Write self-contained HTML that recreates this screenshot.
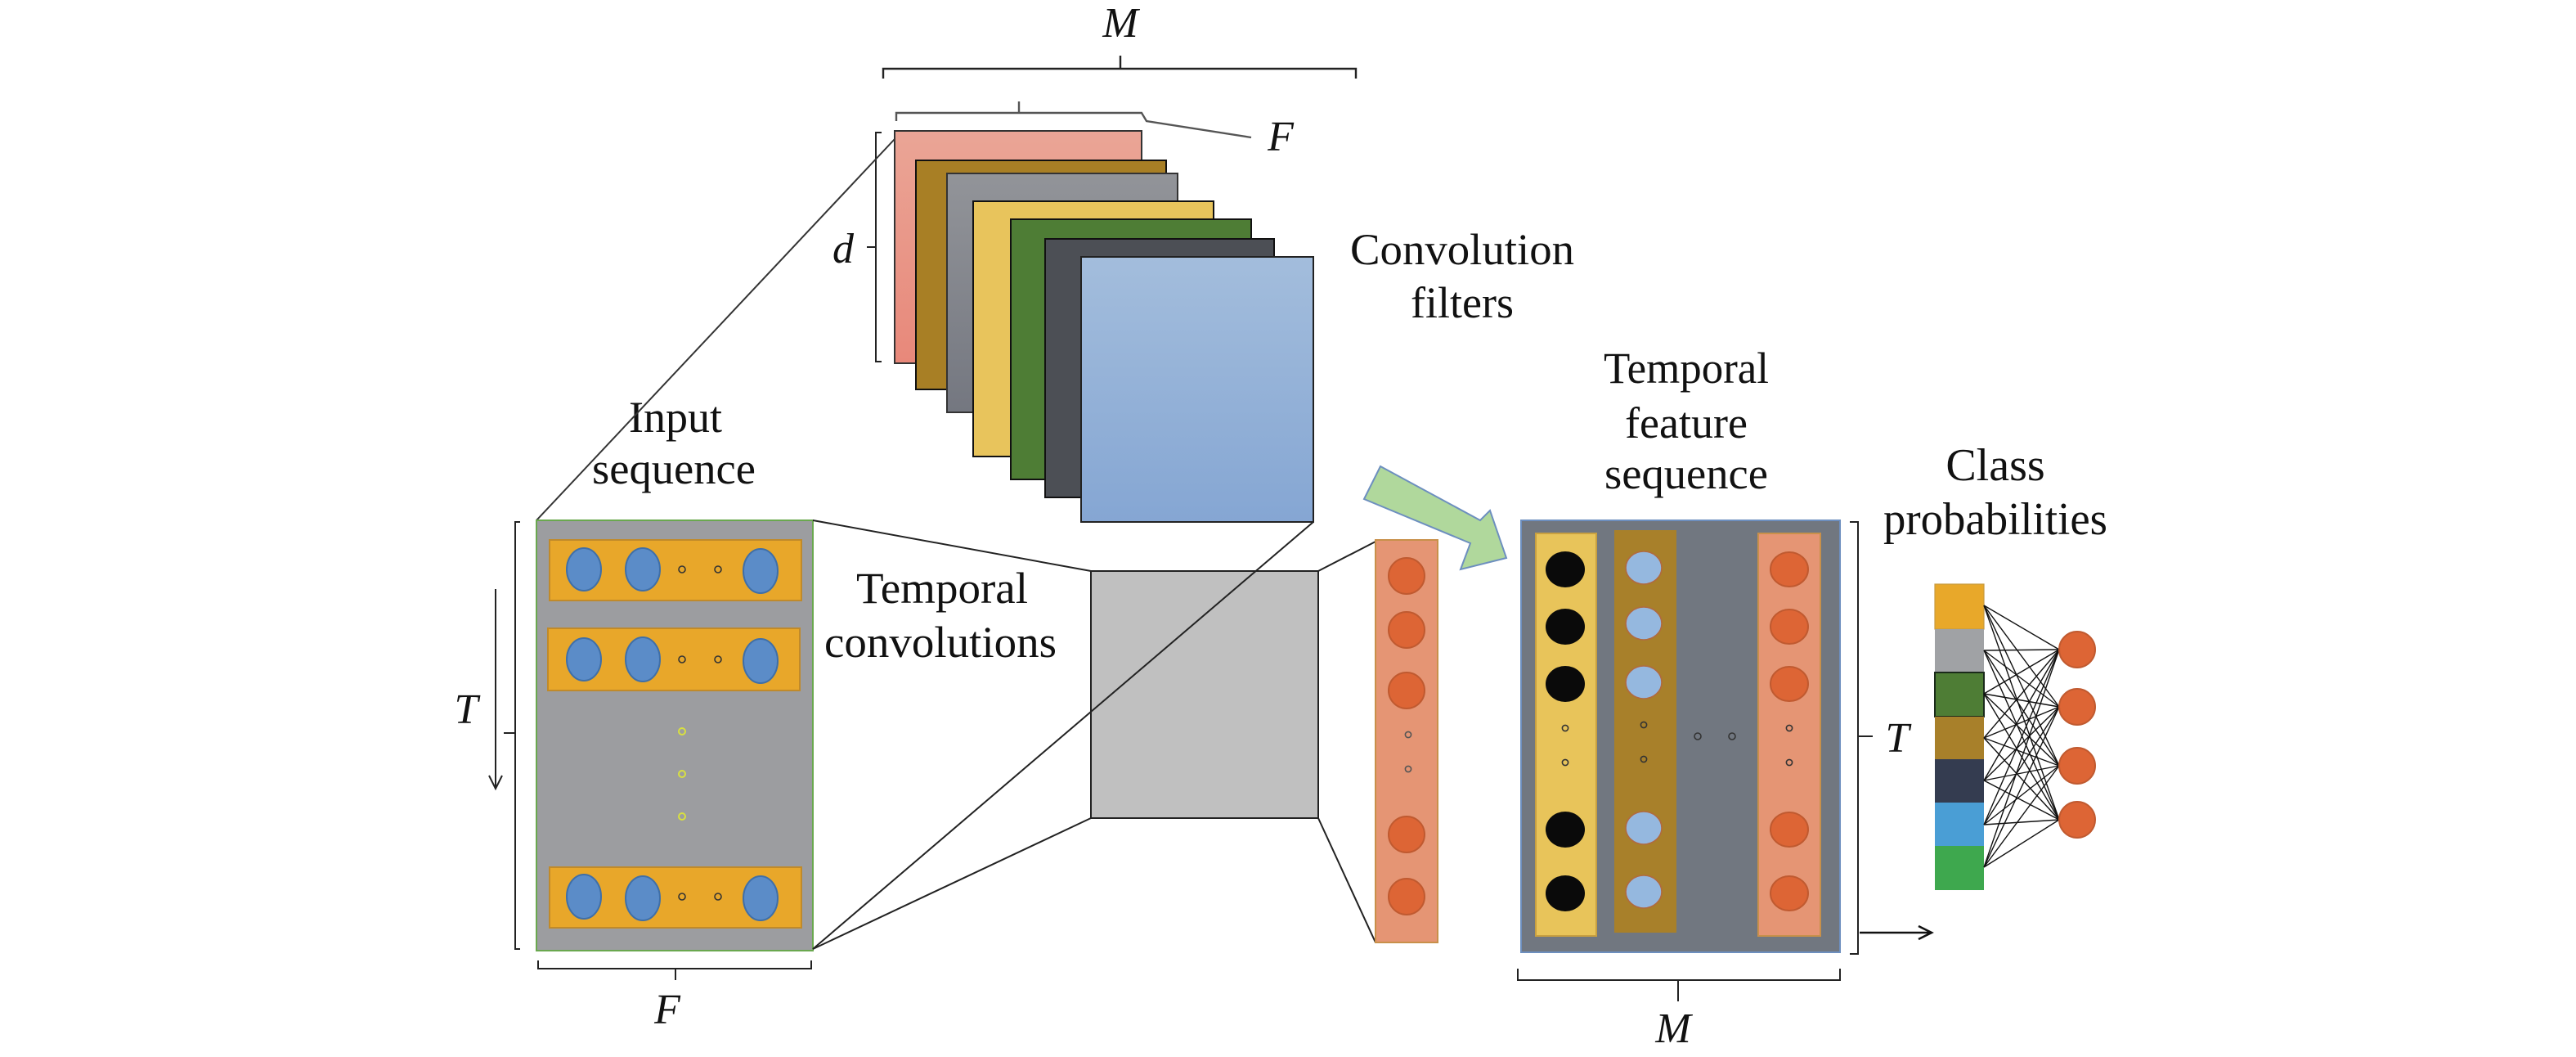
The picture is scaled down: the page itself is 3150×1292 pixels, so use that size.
<!DOCTYPE html>
<html><head><meta charset="utf-8"><style>
html,body{margin:0;padding:0;background:#fff;}
svg{display:block;}
text{font-family:"Liberation Serif",serif;fill:#111;}
.i{font-style:italic;}
</style></head><body>
<svg width="3150" height="1292" viewBox="0 0 1575 646" xmlns="http://www.w3.org/2000/svg">
<defs>
<linearGradient id="gp" x1="0" y1="0" x2="0" y2="1"><stop offset="0" stop-color="#eaa596"/><stop offset="1" stop-color="#e8887a"/></linearGradient>
<linearGradient id="gg" x1="0" y1="0" x2="0" y2="1"><stop offset="0" stop-color="#929499"/><stop offset="1" stop-color="#747780"/></linearGradient>
<linearGradient id="gb" x1="0" y1="0" x2="0" y2="1"><stop offset="0" stop-color="#a3bddc"/><stop offset="1" stop-color="#85a6d3"/></linearGradient>
</defs>
<rect width="1575" height="646" fill="#fff"/>

<!-- top M bracket -->
<path d="M540,48 V42 H829 V48 M685,42 V34" fill="none" stroke="#222" stroke-width="1.2"/>
<text class="i" x="685" y="22.5" font-size="26" text-anchor="middle">M</text>
<!-- F bracket -->
<path d="M548,74 V69 H698 L701,74 L765,84 M623,69 V62" fill="none" stroke="#555" stroke-width="1.2"/>
<text class="i" x="783" y="92" font-size="26" text-anchor="middle">F</text>
<!-- d bracket -->
<path d="M539,81 H535.5 V221 H539 M535.5,151 H530" fill="none" stroke="#222" stroke-width="1"/>
<text class="i" x="515.5" y="160.5" font-size="26" text-anchor="middle">d</text>

<!-- filters -->
<rect x="547" y="80" width="151" height="142" fill="url(#gp)" stroke="#333" stroke-width="1"/>
<rect x="560" y="98" width="153" height="140" fill="#a87f25" stroke="#111" stroke-width="1"/>
<rect x="579" y="106" width="141" height="146" fill="url(#gg)" stroke="#333" stroke-width="1"/>
<rect x="595" y="123" width="147" height="156" fill="#e8c45c" stroke="#111" stroke-width="1"/>
<rect x="618" y="134" width="147" height="159" fill="#4e7d35" stroke="#111" stroke-width="1"/>
<rect x="639" y="146" width="140" height="158" fill="#4c4f55" stroke="#111" stroke-width="1"/>
<rect x="661" y="157" width="142" height="162" fill="url(#gb)" stroke="#222" stroke-width="1"/>

<text x="894" y="161.5" font-size="27" text-anchor="middle" textLength="137" lengthAdjust="spacingAndGlyphs">Convolution</text>
<text x="894" y="194" font-size="27" text-anchor="middle">filters</text>

<!-- Input sequence -->
<text x="413" y="264" font-size="27" text-anchor="middle">Input</text>
<text x="412" y="295.5" font-size="27" text-anchor="middle" textLength="100" lengthAdjust="spacingAndGlyphs">sequence</text>

<!-- diagonal from pink to input -->
<line x1="547" y1="85" x2="328" y2="318" stroke="#333" stroke-width="1"/>

<!-- input box -->
<rect x="328" y="318" width="169" height="263" fill="#9c9da0" stroke="#6aa84f" stroke-width="1"/>
<g fill="#e8a72a" stroke="#c08a2a" stroke-width="1">
<rect x="336" y="330" width="154" height="37"/>
<rect x="335" y="384" width="154" height="38"/>
<rect x="336" y="530" width="154" height="37"/>
</g>
<g fill="#5b8cc8" stroke="#3f6fa8" stroke-width="1">
<ellipse cx="357" cy="348" rx="10.5" ry="13"/><ellipse cx="393" cy="348" rx="10.5" ry="13"/><ellipse cx="465" cy="349" rx="10.5" ry="13.5"/>
<ellipse cx="357" cy="403" rx="10.5" ry="13"/><ellipse cx="393" cy="403" rx="10.5" ry="13.5"/><ellipse cx="465" cy="404" rx="10.5" ry="13.5"/>
<ellipse cx="357" cy="548" rx="10.5" ry="13.5"/><ellipse cx="393" cy="549" rx="10.5" ry="13.5"/><ellipse cx="465" cy="549" rx="10.5" ry="13.5"/>
</g>
<g fill="none" stroke="#333" stroke-width="0.8">
<circle cx="417" cy="348" r="2"/><circle cx="439" cy="348" r="2"/>
<circle cx="417" cy="403" r="2"/><circle cx="439" cy="403" r="2"/>
<circle cx="417" cy="548" r="2"/><circle cx="439" cy="548" r="2"/>
</g>
<g fill="none" stroke="#d8e040" stroke-width="1">
<circle cx="417" cy="447" r="2"/><circle cx="417" cy="473" r="2"/><circle cx="417" cy="499" r="2"/>
</g>
<!-- T left -->
<path d="M318,319 H315 V580 H318 M315,448 H308" fill="none" stroke="#222" stroke-width="1"/>
<path d="M303,360 V482 M299,474 L303,482 L307,474" fill="none" stroke="#222" stroke-width="1"/>
<text class="i" x="285" y="442" font-size="26" text-anchor="middle">T</text>
<!-- F bottom -->
<path d="M329,587 V592 H496 V587 M413,592 V599" fill="none" stroke="#222" stroke-width="1"/>
<text class="i" x="408" y="625.5" font-size="26" text-anchor="middle">F</text>

<!-- Temporal convolutions -->
<text x="576" y="368.5" font-size="27" text-anchor="middle" textLength="105" lengthAdjust="spacingAndGlyphs">Temporal</text>
<text x="575" y="401.5" font-size="27" text-anchor="middle" textLength="142" lengthAdjust="spacingAndGlyphs">convolutions</text>

<!-- gray box and connectors -->
<rect x="667" y="349" width="139" height="151" fill="#c0c0c0" stroke="#222" stroke-width="1"/>
<g stroke="#222" stroke-width="1">
<line x1="497" y1="318" x2="667" y2="349"/>
<line x1="497" y1="580" x2="667" y2="500"/>
<line x1="497" y1="580" x2="803" y2="319"/>
<line x1="806" y1="349" x2="841" y2="331"/>
<line x1="806" y1="500" x2="841" y2="576"/>
</g>

<!-- orange column -->
<rect x="841" y="330" width="38" height="246" fill="#e59574" stroke="#c8904a" stroke-width="1"/>
<g fill="#dd6535" stroke="#c05a30" stroke-width="1">
<circle cx="860" cy="352" r="11"/><circle cx="860" cy="385" r="11"/><circle cx="860" cy="422" r="11"/>
<circle cx="860" cy="510" r="11"/><circle cx="860" cy="548" r="11"/>
</g>
<g fill="none" stroke="#555" stroke-width="0.8"><circle cx="861" cy="449" r="1.8"/><circle cx="861" cy="470" r="1.8"/></g>

<!-- green arrow -->
<polygon points="844,285 905,318 911,312 921,341 893,348 899,332 834,305" fill="#b0d89c" stroke="#6d8fbf" stroke-width="1"/>

<!-- Temporal feature sequence -->
<text x="1031" y="234" font-size="27" text-anchor="middle" textLength="101" lengthAdjust="spacingAndGlyphs">Temporal</text>
<text x="1031" y="267.5" font-size="27" text-anchor="middle">feature</text>
<text x="1031" y="298.5" font-size="27" text-anchor="middle" textLength="100" lengthAdjust="spacingAndGlyphs">sequence</text>

<!-- big box -->
<rect x="930" y="318" width="195" height="264" fill="#717780" stroke="#6d8fbf" stroke-width="1"/>
<rect x="939" y="326" width="37" height="246" fill="#e8c45a" stroke="#c8a040" stroke-width="1"/>
<rect x="987" y="324" width="38" height="246" fill="#a8802a"/>
<rect x="1075" y="326" width="38" height="246" fill="#e59574" stroke="#c8904a" stroke-width="1"/>
<g fill="#0a0a0a">
<ellipse cx="957" cy="348" rx="12" ry="11"/><ellipse cx="957" cy="383" rx="12" ry="11"/><ellipse cx="957" cy="418" rx="12" ry="11"/>
<ellipse cx="957" cy="507" rx="12" ry="11"/><ellipse cx="957" cy="546" rx="12" ry="11"/>
</g>
<g fill="#95b8df" stroke="#b06a40" stroke-width="0.8">
<ellipse cx="1005" cy="347" rx="11" ry="10"/><ellipse cx="1005" cy="381" rx="11" ry="10"/><ellipse cx="1005" cy="417" rx="11" ry="10"/>
<ellipse cx="1005" cy="506" rx="11" ry="10"/><ellipse cx="1005" cy="545" rx="11" ry="10"/>
</g>
<g fill="#dd6535" stroke="#c05a30" stroke-width="1">
<ellipse cx="1094" cy="348" rx="11.5" ry="10.5"/><ellipse cx="1094" cy="383" rx="11.5" ry="10.5"/><ellipse cx="1094" cy="418" rx="11.5" ry="10.5"/>
<ellipse cx="1094" cy="507" rx="11.5" ry="10.5"/><ellipse cx="1094" cy="546" rx="11.5" ry="10.5"/>
</g>
<g fill="none" stroke="#333" stroke-width="0.8">
<circle cx="957" cy="445" r="1.8"/><circle cx="957" cy="466" r="1.8"/>
<circle cx="1005" cy="443" r="1.8"/><circle cx="1005" cy="464" r="1.8"/>
<circle cx="1094" cy="445" r="1.8"/><circle cx="1094" cy="466" r="1.8"/>
<circle cx="1038" cy="450" r="2"/><circle cx="1059" cy="450" r="2"/>
</g>
<!-- T right -->
<path d="M1131,319 H1136 V583 H1131 M1136,450 H1145" fill="none" stroke="#222" stroke-width="1"/>
<text class="i" x="1160" y="459.5" font-size="26" text-anchor="middle">T</text>
<path d="M1137,570 H1180 M1173,566 L1181,570 L1173,574" fill="none" stroke="#111" stroke-width="1.3"/>
<!-- M bottom -->
<path d="M928,592 V599 H1125 V592 M1026,599 V612" fill="none" stroke="#222" stroke-width="1"/>
<text class="i" x="1023" y="637" font-size="26" text-anchor="middle">M</text>

<!-- Class probabilities -->
<text x="1220" y="293.5" font-size="28" text-anchor="middle">Class</text>
<text x="1220" y="326.5" font-size="28" text-anchor="middle" textLength="137" lengthAdjust="spacingAndGlyphs">probabilities</text>

<rect x="1183" y="357" width="30" height="27.5" fill="#e8a82a" stroke="#c89a40" stroke-width="0.6"/>
<rect x="1183" y="384.5" width="30" height="26.5" fill="#a0a2a5"/>
<rect x="1183" y="411" width="30" height="27" fill="#4e7d35" stroke="#1a2a1a" stroke-width="1"/>
<rect x="1183" y="438" width="30" height="26" fill="#a8802a"/>
<rect x="1183" y="464" width="30" height="26.5" fill="#343c50"/>
<rect x="1183" y="490.5" width="30" height="26.5" fill="#4a9ed5"/>
<rect x="1183" y="517" width="30" height="27" fill="#3ea84e"/>
<g stroke="#111" stroke-width="0.7">
<line x1="1213" y1="370" x2="1259" y2="397"/><line x1="1213" y1="370" x2="1259" y2="432"/><line x1="1213" y1="370" x2="1259" y2="468"/><line x1="1213" y1="370" x2="1259" y2="501"/>
<line x1="1213" y1="397.5" x2="1259" y2="397"/><line x1="1213" y1="397.5" x2="1259" y2="432"/><line x1="1213" y1="397.5" x2="1259" y2="468"/><line x1="1213" y1="397.5" x2="1259" y2="501"/>
<line x1="1213" y1="424" x2="1259" y2="397"/><line x1="1213" y1="424" x2="1259" y2="432"/><line x1="1213" y1="424" x2="1259" y2="468"/><line x1="1213" y1="424" x2="1259" y2="501"/>
<line x1="1213" y1="451" x2="1259" y2="397"/><line x1="1213" y1="451" x2="1259" y2="432"/><line x1="1213" y1="451" x2="1259" y2="468"/><line x1="1213" y1="451" x2="1259" y2="501"/>
<line x1="1213" y1="477" x2="1259" y2="397"/><line x1="1213" y1="477" x2="1259" y2="432"/><line x1="1213" y1="477" x2="1259" y2="468"/><line x1="1213" y1="477" x2="1259" y2="501"/>
<line x1="1213" y1="504" x2="1259" y2="397"/><line x1="1213" y1="504" x2="1259" y2="432"/><line x1="1213" y1="504" x2="1259" y2="468"/><line x1="1213" y1="504" x2="1259" y2="501"/>
<line x1="1213" y1="530" x2="1259" y2="397"/><line x1="1213" y1="530" x2="1259" y2="432"/><line x1="1213" y1="530" x2="1259" y2="468"/><line x1="1213" y1="530" x2="1259" y2="501"/>
</g>
<g fill="#dd6535" stroke="#c05a30" stroke-width="1">
<circle cx="1270" cy="397" r="11"/><circle cx="1270" cy="432" r="11"/><circle cx="1270" cy="468" r="11"/><circle cx="1270" cy="501" r="11"/>
</g>
</svg>
</body></html>
